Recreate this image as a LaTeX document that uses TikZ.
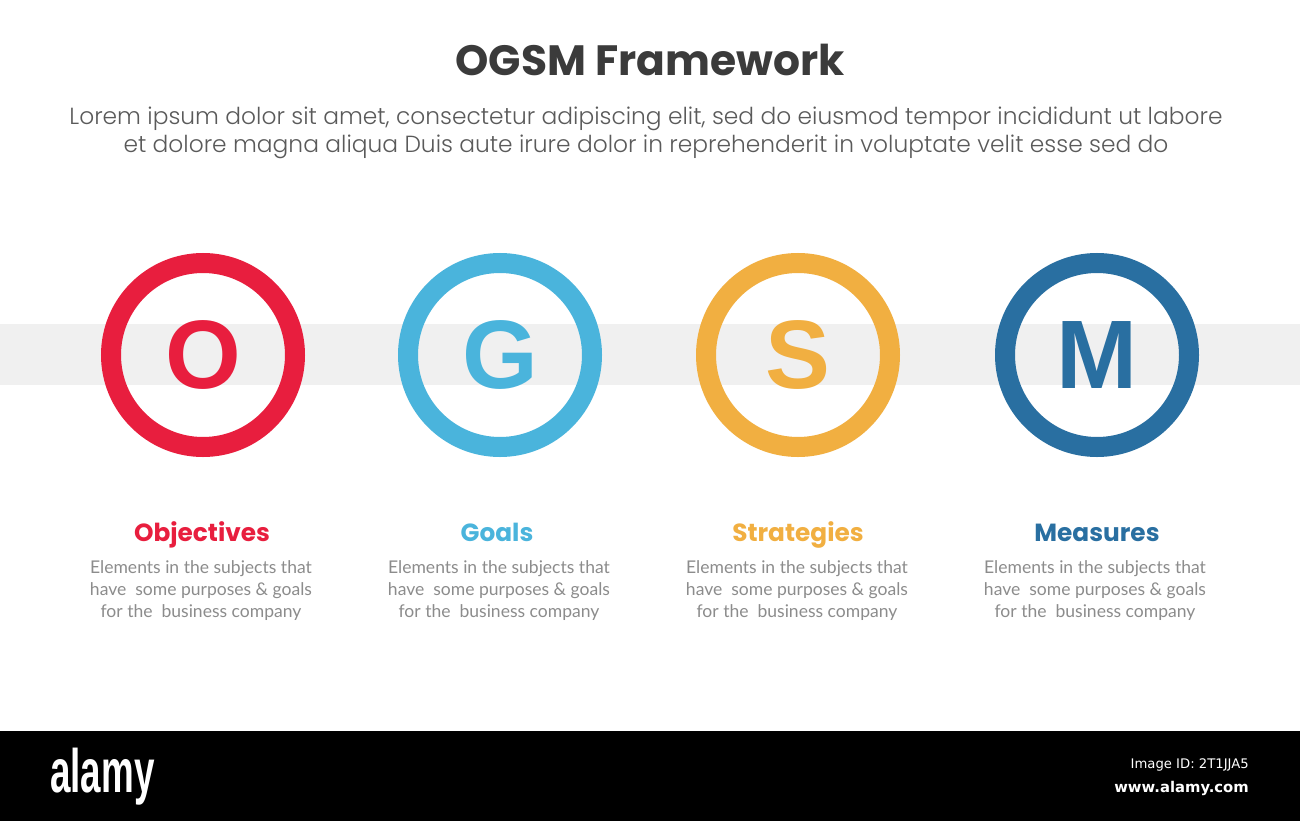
\documentclass[tikz,border=0pt]{standalone}
\usepackage{fontspec}
\setmainfont{Poppins}
\newfontfamily\introfont{Poppins Light}
\newfontfamily\latofont{Lato}
\newfontfamily\letterfont{Liberation Sans}
\newfontfamily\logofont{Liberation Sans}[FakeStretch=0.6]
\newfontfamily\idfont{DejaVu Sans}
\usetikzlibrary{positioning}
\definecolor{objred}{RGB}{232,30,62}
\definecolor{goalblue}{RGB}{74,180,220}
\definecolor{stratyellow}{RGB}{241,175,65}
\definecolor{measureblue}{RGB}{41,111,161}
\definecolor{titlegray}{RGB}{59,59,59}
\definecolor{subgray}{RGB}{90,90,90}
\definecolor{descgray}{RGB}{140,140,140}
\definecolor{bandgray}{RGB}{240,240,240}

\begin{document}
\begin{tikzpicture}[x=0.75pt, y=-0.75pt,
    ring/.style={circle, draw, line width=15pt, minimum size=138pt, inner sep=0pt,
        font=\letterfont\bfseries\fontsize{73}{73}\selectfont},
    headline/.style={font=\bfseries\fontsize{18.6}{18.6}\selectfont, anchor=base},
    blurb/.style={align=center, text=descgray, font=\latofont\fontsize{13.15}{16.5}\selectfont}]
    \useasboundingbox (0,0) rectangle (1300,821);
    \fill[white] (0,0) rectangle (1300,821);

    % Band behind the circles
    \fill[bandgray] (0,324) rectangle (1300,385);

    % Heading
    \node[anchor=base, text=titlegray, font=\bfseries\fontsize{31.8}{31.8}\selectfont] (title) at (650,75) {OGSM Framework};
    \node[align=center, text=subgray, font=\introfont\fontsize{17.5}{21}\selectfont] (intro) at (646,133)
        {Lorem ipsum dolor sit amet, consectetur adipiscing elit, sed do eiusmod tempor incididunt ut labore\\
         et dolore magna aliqua Duis aute irure dolor in reprehenderit in voluptate velit esse sed do};

    % Objectives
    \node[ring, draw=objred, text=objred] (obj) at (203,355) {O};
    \node[headline, text=objred] (objname) at (202,541) {Objectives};
    \node[blurb] (objtext) at (201,591) {Elements in the subjects that\\have~ some purposes \& goals\\for the~ business company};

    % Goals
    \node[ring, draw=goalblue, text=goalblue] (goal) at (500,355) {G};
    \node[headline, text=goalblue] (goalname) at (497,541) {Goals};
    \node[blurb] (goaltext) at (499,591) {Elements in the subjects that\\have~ some purposes \& goals\\for the~ business company};

    % Strategies
    \node[ring, draw=stratyellow, text=stratyellow] (strat) at (798,355) {S};
    \node[headline, text=stratyellow] (stratname) at (798,541) {Strategies};
    \node[blurb] (strattext) at (797,591) {Elements in the subjects that\\have~ some purposes \& goals\\for the~ business company};

    % Measures
    \node[ring, draw=measureblue, text=measureblue] (meas) at (1097,355) {M};
    \node[headline, text=measureblue] (measname) at (1097,541) {Measures};
    \node[blurb] (meastext) at (1095,591) {Elements in the subjects that\\have~ some purposes \& goals\\for the~ business company};

    % Footer bar
    \fill[black] (0,731) rectangle (1300,821);
    \node[anchor=base west, text=white, inner sep=0pt, font=\logofont\bfseries\fontsize{46}{46}\selectfont] (logo) at (50,792) {alamy};
    \node[anchor=base east, text=white, inner sep=0pt, font=\idfont\fontsize{9.9}{9.9}\selectfont] (imgid) at (1249,768) {Image ID: 2T1JJA5};
    \node[anchor=base east, text=white, inner sep=0pt, font=\idfont\bfseries\fontsize{11.1}{11.1}\selectfont] (site) at (1249,792) {www.alamy.com};
\end{tikzpicture}
\end{document}
